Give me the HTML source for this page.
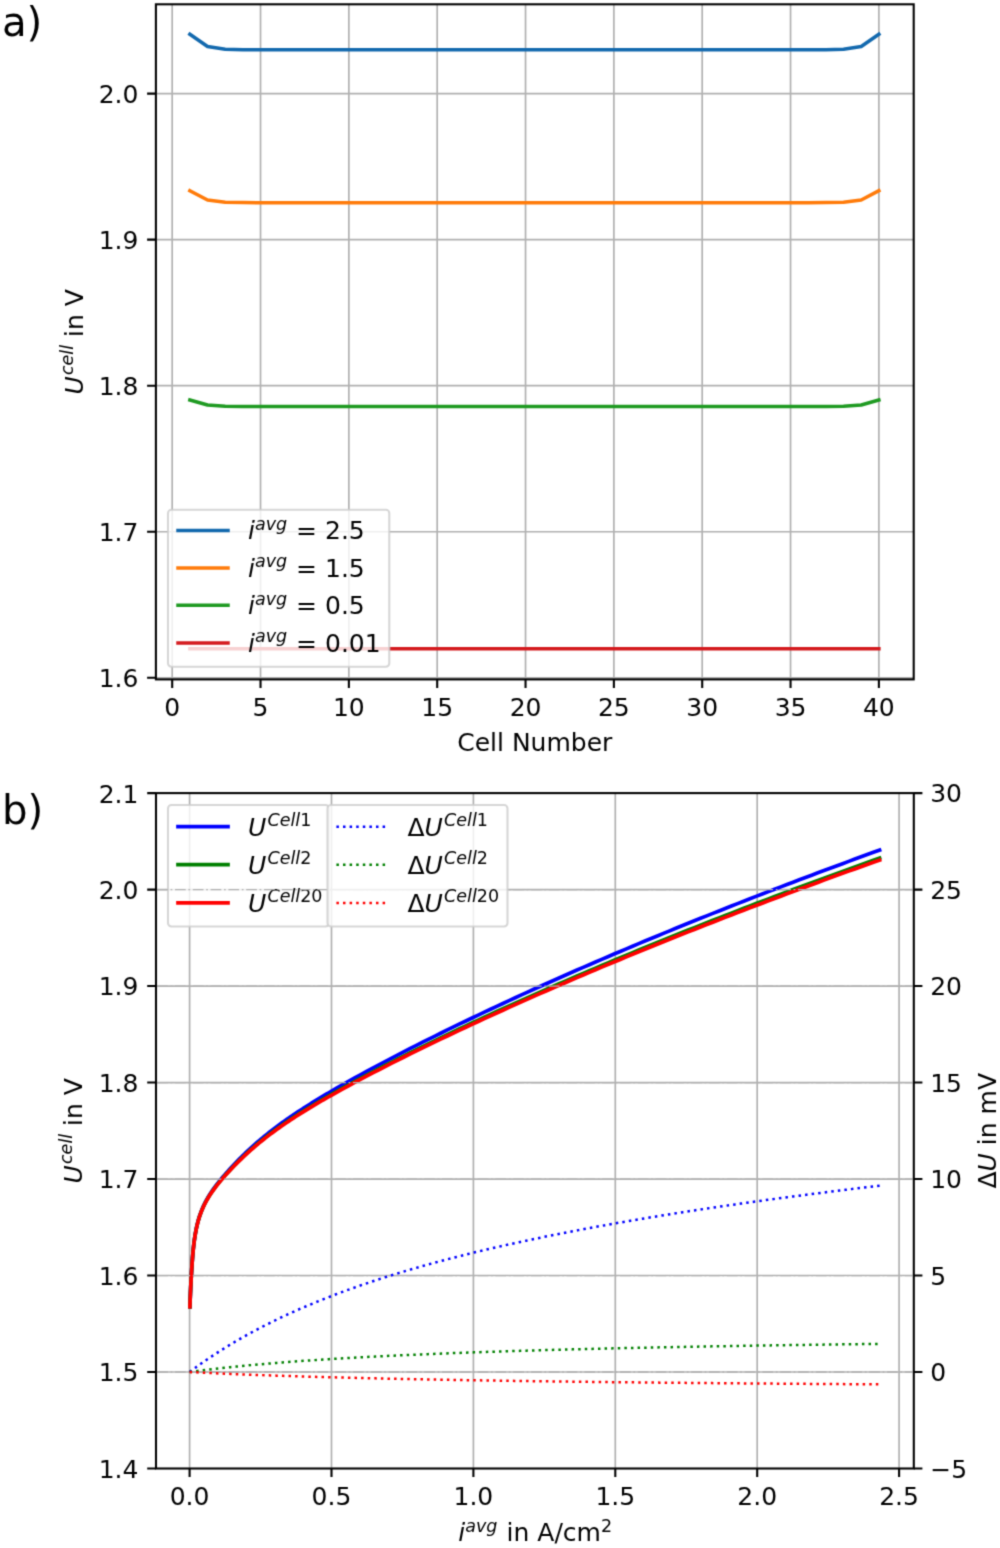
<!DOCTYPE html>
<html lang="en"><head><meta charset="utf-8"><title>Cell voltage figure</title>
<style>html,body{margin:0;padding:0;background:#fff}svg{display:block}</style></head>
<body>
<svg width="1000" height="1548" viewBox="0 0 1000 1548" font-family="'DejaVu Sans', 'Liberation Sans', sans-serif" font-size="25" fill="#000">
<defs><filter id="soft" x="0" y="0" width="1000" height="1548" filterUnits="userSpaceOnUse" color-interpolation-filters="sRGB"><feConvolveMatrix order="3" kernelMatrix="0.02768 0.11101 0.02768 0.11101 0.44521 0.11101 0.02768 0.11101 0.02768" edgeMode="duplicate" preserveAlpha="true"/></filter></defs>
<g filter="url(#soft)">
<rect x="-5" y="-5" width="1010" height="1558" fill="#fff"/>
<g id="panelA">
<path d="M172.2 4.3V679.4M260.53 4.3V679.4M348.87 4.3V679.4M437.2 4.3V679.4M525.54 4.3V679.4M613.88 4.3V679.4M702.21 4.3V679.4M790.55 4.3V679.4M878.88 4.3V679.4M155.9 677.8H913.7M155.9 531.75H913.7M155.9 385.7H913.7M155.9 239.65H913.7M155.9 93.6H913.7" stroke="#b0b0b0" stroke-width="1.67" fill="none"/>
<polyline points="189.87,34.3 207.53,46.5 225.2,49.2 242.87,49.7 260.53,49.8 278.2,49.8 295.87,49.8 313.54,49.8 331.2,49.8 348.87,49.8 366.54,49.8 384.2,49.8 401.87,49.8 419.54,49.8 437.2,49.8 454.87,49.8 472.54,49.8 490.21,49.8 507.87,49.8 525.54,49.8 543.21,49.8 560.87,49.8 578.54,49.8 596.21,49.8 613.88,49.8 631.54,49.8 649.21,49.8 666.88,49.8 684.54,49.8 702.21,49.8 719.88,49.8 737.54,49.8 755.21,49.8 772.88,49.8 790.55,49.8 808.21,49.8 825.88,49.7 843.55,49.2 861.21,46.5 878.88,34.3" fill="none" stroke="#1369ae" stroke-width="3.5" stroke-linejoin="round" stroke-linecap="square"/>
<polyline points="189.87,190.7 207.53,200 225.2,202.3 242.87,202.6 260.53,202.7 278.2,202.7 295.87,202.7 313.54,202.7 331.2,202.7 348.87,202.7 366.54,202.7 384.2,202.7 401.87,202.7 419.54,202.7 437.2,202.7 454.87,202.7 472.54,202.7 490.21,202.7 507.87,202.7 525.54,202.7 543.21,202.7 560.87,202.7 578.54,202.7 596.21,202.7 613.88,202.7 631.54,202.7 649.21,202.7 666.88,202.7 684.54,202.7 702.21,202.7 719.88,202.7 737.54,202.7 755.21,202.7 772.88,202.7 790.55,202.7 808.21,202.7 825.88,202.6 843.55,202.3 861.21,200 878.88,190.7" fill="none" stroke="#ff7b0a" stroke-width="3.5" stroke-linejoin="round" stroke-linecap="square"/>
<polyline points="189.87,400 207.53,405 225.2,406.3 242.87,406.5 260.53,406.6 278.2,406.6 295.87,406.6 313.54,406.6 331.2,406.6 348.87,406.6 366.54,406.6 384.2,406.6 401.87,406.6 419.54,406.6 437.2,406.6 454.87,406.6 472.54,406.6 490.21,406.6 507.87,406.6 525.54,406.6 543.21,406.6 560.87,406.6 578.54,406.6 596.21,406.6 613.88,406.6 631.54,406.6 649.21,406.6 666.88,406.6 684.54,406.6 702.21,406.6 719.88,406.6 737.54,406.6 755.21,406.6 772.88,406.6 790.55,406.6 808.21,406.6 825.88,406.5 843.55,406.3 861.21,405 878.88,400" fill="none" stroke="#1f9a22" stroke-width="3.5" stroke-linejoin="round" stroke-linecap="square"/>
<polyline points="189.87,648.7 207.53,648.7 225.2,648.7 242.87,648.7 260.53,648.7 278.2,648.7 295.87,648.7 313.54,648.7 331.2,648.7 348.87,648.7 366.54,648.7 384.2,648.7 401.87,648.7 419.54,648.7 437.2,648.7 454.87,648.7 472.54,648.7 490.21,648.7 507.87,648.7 525.54,648.7 543.21,648.7 560.87,648.7 578.54,648.7 596.21,648.7 613.88,648.7 631.54,648.7 649.21,648.7 666.88,648.7 684.54,648.7 702.21,648.7 719.88,648.7 737.54,648.7 755.21,648.7 772.88,648.7 790.55,648.7 808.21,648.7 825.88,648.7 843.55,648.7 861.21,648.7 878.88,648.7" fill="none" stroke="#d41a1e" stroke-width="3.5" stroke-linejoin="round" stroke-linecap="square"/>
<path d="M172.2 679.4v8.6M260.53 679.4v8.6M348.87 679.4v8.6M437.2 679.4v8.6M525.54 679.4v8.6M613.88 679.4v8.6M702.21 679.4v8.6M790.55 679.4v8.6M878.88 679.4v8.6M155.9 677.8h-8.8M155.9 531.75h-8.8M155.9 385.7h-8.8M155.9 239.65h-8.8M155.9 93.6h-8.8" stroke="#000" stroke-width="2.08" fill="none"/>
<rect x="155.9" y="4.3" width="757.8" height="675.1" fill="none" stroke="#000" stroke-width="2.08"/>
<text x="172.2" y="716.4" text-anchor="middle">0</text>
<text x="260.53" y="716.4" text-anchor="middle">5</text>
<text x="348.87" y="716.4" text-anchor="middle">10</text>
<text x="437.2" y="716.4" text-anchor="middle">15</text>
<text x="525.54" y="716.4" text-anchor="middle">20</text>
<text x="613.88" y="716.4" text-anchor="middle">25</text>
<text x="702.21" y="716.4" text-anchor="middle">30</text>
<text x="790.55" y="716.4" text-anchor="middle">35</text>
<text x="878.88" y="716.4" text-anchor="middle">40</text>
<text x="138.4" y="687.2" text-anchor="end">1.6</text>
<text x="138.4" y="541.15" text-anchor="end">1.7</text>
<text x="138.4" y="395.1" text-anchor="end">1.8</text>
<text x="138.4" y="249.05" text-anchor="end">1.9</text>
<text x="138.4" y="103" text-anchor="end">2.0</text>
<text x="534.8" y="751" text-anchor="middle">Cell Number</text>
<text transform="translate(83 341.85) rotate(-90)" text-anchor="middle"><tspan font-style="italic">U</tspan><tspan font-style="italic" font-size="17.5" dx="1.2" dy="-10">cell</tspan><tspan dy="10"> in V</tspan></text>
<rect x="168" y="509.8" width="221.3" height="157" rx="3.5" ry="3.5" fill="#fff" fill-opacity="0.8" stroke="#ccc" stroke-opacity="0.8" stroke-width="2.08"/>
<path d="M178 530.6h50" stroke="#1369ae" stroke-width="3.5" stroke-linecap="square" fill="none"/>
<text x="248" y="539.4"><tspan font-style="italic">i</tspan><tspan font-style="italic" font-size="17.5" dy="-9.5">avg</tspan><tspan dx="1" dy="9.5"> = 2.5</tspan></text>
<path d="M178 567.9h50" stroke="#ff7b0a" stroke-width="3.5" stroke-linecap="square" fill="none"/>
<text x="248" y="576.7"><tspan font-style="italic">i</tspan><tspan font-style="italic" font-size="17.5" dy="-9.5">avg</tspan><tspan dx="1" dy="9.5"> = 1.5</tspan></text>
<path d="M178 605.3h50" stroke="#1f9a22" stroke-width="3.5" stroke-linecap="square" fill="none"/>
<text x="248" y="614.1"><tspan font-style="italic">i</tspan><tspan font-style="italic" font-size="17.5" dy="-9.5">avg</tspan><tspan dx="1" dy="9.5"> = 0.5</tspan></text>
<path d="M178 643h50" stroke="#d41a1e" stroke-width="3.5" stroke-linecap="square" fill="none"/>
<text x="248" y="651.8"><tspan font-style="italic">i</tspan><tspan font-style="italic" font-size="17.5" dy="-9.5">avg</tspan><tspan dx="1" dy="9.5"> = 0.01</tspan></text>
<text x="1.9" y="36" font-size="40.3">a)</text>
</g>
<g id="panelB">
<path d="M189.6 793.1V1468.5M331.5 793.1V1468.5M473.4 793.1V1468.5M615.3 793.1V1468.5M757.2 793.1V1468.5M899.1 793.1V1468.5M156 1372.01H913.8M156 1275.53H913.8M156 1179.04H913.8M156 1082.56H913.8M156 986.07H913.8M156 889.59H913.8" stroke="#b0b0b0" stroke-width="1.67" fill="none"/>
<polyline points="189.9,1306.76 190.16,1299.51 190.42,1293.34 190.68,1287.83 190.94,1282.76 191.19,1278.02 191.45,1273.52 191.71,1269.24 191.97,1265.22 192.23,1261.48 192.49,1258.02 192.75,1254.84 193.01,1251.93 193.27,1249.26 193.53,1246.8 193.78,1244.53 194.04,1242.41 194.3,1240.44 194.56,1238.59 194.82,1236.86 195.08,1235.22 195.34,1233.67 195.6,1232.21 195.86,1230.81 196.12,1229.49 196.37,1228.22 196.63,1227.01 196.89,1225.85 197.15,1224.74 197.41,1223.67 197.67,1222.64 197.93,1221.65 198.19,1220.69 198.45,1219.76 198.71,1218.87 198.96,1218 199.22,1217.16 199.48,1216.34 199.74,1215.55 200,1214.77 201.65,1210.3 203.29,1206.41 204.94,1202.96 206.58,1199.84 208.23,1196.98 209.87,1194.31 211.52,1191.8 213.16,1189.41 214.81,1187.13 216.46,1184.93 218.1,1182.81 219.75,1180.74 221.39,1178.73 223.04,1176.77 224.68,1174.84 226.33,1172.96 227.97,1171.11 229.62,1169.28 231.27,1167.49 232.91,1165.72 234.56,1163.97 236.2,1162.25 237.85,1160.56 239.49,1158.89 241.14,1157.24 242.78,1155.62 244.43,1154.02 246.08,1152.44 247.72,1150.89 249.37,1149.36 251.01,1147.85 252.66,1146.36 254.3,1144.89 255.95,1143.44 257.59,1142.01 259.24,1140.6 260.89,1139.21 262.53,1137.84 264.18,1136.48 265.82,1135.14 267.47,1133.82 269.11,1132.52 270.76,1131.23 272.41,1129.96 274.05,1128.7 275.7,1127.46 277.34,1126.23 278.99,1125.01 280.63,1123.81 282.28,1122.62 283.92,1121.44 285.57,1120.27 287.22,1119.12 288.86,1117.98 290.51,1116.84 292.15,1115.72 293.8,1114.61 295.44,1113.5 297.09,1112.41 298.73,1111.32 300.38,1110.25 302.03,1109.18 303.67,1108.12 305.32,1107.07 306.96,1106.02 308.61,1104.98 310.25,1103.95 311.9,1102.93 313.54,1101.91 315.19,1100.89 316.84,1099.89 318.48,1098.89 320.13,1097.89 321.77,1096.9 323.42,1095.91 325.06,1094.93 326.71,1093.96 328.35,1092.99 330,1092.02 336.18,1088.43 342.35,1084.89 348.53,1081.4 354.7,1077.95 360.88,1074.55 367.05,1071.18 373.23,1067.85 379.4,1064.54 385.58,1061.27 391.75,1058.03 397.93,1054.82 404.1,1051.63 410.28,1048.47 416.45,1045.33 422.63,1042.21 428.8,1039.11 434.98,1036.04 441.16,1032.98 447.33,1029.95 453.51,1026.94 459.68,1023.94 465.86,1020.96 472.03,1018 478.21,1015.06 484.38,1012.13 490.56,1009.22 496.73,1006.33 502.91,1003.45 509.08,1000.59 515.26,997.75 521.43,994.91 527.61,992.1 533.78,989.29 539.96,986.51 546.13,983.73 552.31,980.97 558.49,978.22 564.66,975.49 570.84,972.77 577.01,970.06 583.19,967.36 589.36,964.68 595.54,962.01 601.71,959.35 607.89,956.7 614.06,954.07 620.24,951.44 626.41,948.83 632.59,946.23 638.76,943.64 644.94,941.06 651.11,938.5 657.29,935.94 663.47,933.39 669.64,930.86 675.82,928.33 681.99,925.81 688.17,923.31 694.34,920.81 700.52,918.33 706.69,915.85 712.87,913.39 719.04,910.93 725.22,908.48 731.39,906.05 737.57,903.62 743.74,901.2 749.92,898.79 756.09,896.39 762.27,894 768.44,891.61 774.62,889.24 780.8,886.87 786.97,884.51 793.15,882.16 799.32,879.82 805.5,877.49 811.67,875.16 817.85,872.85 824.02,870.54 830.2,868.24 836.37,865.95 842.55,863.66 848.72,861.38 854.9,859.11 861.07,856.85 867.25,854.6 873.42,852.35 879.6,850.11" fill="none" stroke="#0000ff" stroke-width="3.7" stroke-linejoin="round" stroke-linecap="square"/>
<polyline points="189.9,1306.77 190.16,1299.53 190.42,1293.37 190.68,1287.86 190.94,1282.81 191.19,1278.07 191.45,1273.58 191.71,1269.31 191.97,1265.3 192.23,1261.56 192.49,1258.11 192.75,1254.94 193.01,1252.04 193.27,1249.37 193.53,1246.92 193.78,1244.66 194.04,1242.55 194.3,1240.59 194.56,1238.75 194.82,1237.02 195.08,1235.39 195.34,1233.85 195.6,1232.39 195.86,1231.01 196.12,1229.69 196.37,1228.43 196.63,1227.23 196.89,1226.08 197.15,1224.97 197.41,1223.91 197.67,1222.89 197.93,1221.9 198.19,1220.95 198.45,1220.03 198.71,1219.14 198.96,1218.28 199.22,1217.45 199.48,1216.64 199.74,1215.85 200,1215.09 201.65,1210.66 203.29,1206.82 204.94,1203.42 206.58,1200.35 208.23,1197.53 209.87,1194.91 211.52,1192.44 213.16,1190.1 214.81,1187.86 216.46,1185.71 218.1,1183.63 219.75,1181.6 221.39,1179.64 223.04,1177.71 224.68,1175.83 226.33,1173.99 227.97,1172.18 229.62,1170.4 231.27,1168.64 232.91,1166.91 234.56,1165.21 236.2,1163.53 237.85,1161.87 239.49,1160.24 241.14,1158.64 242.78,1157.05 244.43,1155.49 246.08,1153.95 247.72,1152.44 249.37,1150.94 251.01,1149.47 252.66,1148.02 254.3,1146.58 255.95,1145.17 257.59,1143.78 259.24,1142.4 260.89,1141.05 262.53,1139.71 264.18,1138.39 265.82,1137.09 267.47,1135.8 269.11,1134.53 270.76,1133.28 272.41,1132.04 274.05,1130.82 275.7,1129.61 277.34,1128.41 278.99,1127.23 280.63,1126.06 282.28,1124.9 283.92,1123.75 285.57,1122.62 287.22,1121.49 288.86,1120.38 290.51,1119.28 292.15,1118.19 293.8,1117.1 295.44,1116.03 297.09,1114.97 298.73,1113.91 300.38,1112.87 302.03,1111.83 303.67,1110.8 305.32,1109.78 306.96,1108.76 308.61,1107.75 310.25,1106.75 311.9,1105.75 313.54,1104.76 315.19,1103.78 316.84,1102.8 318.48,1101.82 320.13,1100.86 321.77,1099.89 323.42,1098.93 325.06,1097.98 326.71,1097.03 328.35,1096.09 330,1095.15 336.18,1091.65 342.35,1088.21 348.53,1084.82 354.7,1081.46 360.88,1078.15 367.05,1074.87 373.23,1071.62 379.4,1068.41 385.58,1065.22 391.75,1062.06 397.93,1058.93 404.1,1055.82 410.28,1052.73 416.45,1049.67 422.63,1046.63 428.8,1043.6 434.98,1040.6 441.16,1037.62 447.33,1034.65 453.51,1031.71 459.68,1028.78 465.86,1025.87 472.03,1022.97 478.21,1020.09 484.38,1017.23 490.56,1014.39 496.73,1011.55 502.91,1008.74 509.08,1005.93 515.26,1003.15 521.43,1000.37 527.61,997.61 533.78,994.87 539.96,992.13 546.13,989.41 552.31,986.71 558.49,984.01 564.66,981.33 570.84,978.66 577.01,976 583.19,973.36 589.36,970.73 595.54,968.11 601.71,965.5 607.89,962.9 614.06,960.31 620.24,957.73 626.41,955.17 632.59,952.61 638.76,950.07 644.94,947.53 651.11,945.01 657.29,942.5 663.47,940 669.64,937.5 675.82,935.02 681.99,932.55 688.17,930.08 694.34,927.63 700.52,925.19 706.69,922.75 712.87,920.33 719.04,917.91 725.22,915.5 731.39,913.1 737.57,910.72 743.74,908.33 749.92,905.96 756.09,903.6 762.27,901.24 768.44,898.9 774.62,896.56 780.8,894.23 786.97,891.91 793.15,889.6 799.32,887.29 805.5,884.99 811.67,882.7 817.85,880.42 824.02,878.15 830.2,875.88 836.37,873.62 842.55,871.37 848.72,869.13 854.9,866.89 861.07,864.67 867.25,862.44 873.42,860.23 879.6,858.02" fill="none" stroke="#008000" stroke-width="3.7" stroke-linejoin="round" stroke-linecap="square"/>
<polyline points="189.9,1306.77 190.16,1299.54 190.42,1293.37 190.68,1287.87 190.94,1282.82 191.19,1278.09 191.45,1273.6 191.71,1269.33 191.97,1265.32 192.23,1261.59 192.49,1258.14 192.75,1254.97 193.01,1252.07 193.27,1249.41 193.53,1246.96 193.78,1244.7 194.04,1242.59 194.3,1240.63 194.56,1238.8 194.82,1237.07 195.08,1235.44 195.34,1233.91 195.6,1232.45 195.86,1231.07 196.12,1229.75 196.37,1228.49 196.63,1227.29 196.89,1226.14 197.15,1225.04 197.41,1223.98 197.67,1222.96 197.93,1221.98 198.19,1221.03 198.45,1220.11 198.71,1219.23 198.96,1218.37 199.22,1217.54 199.48,1216.73 199.74,1215.95 200,1215.18 201.65,1210.77 203.29,1206.95 204.94,1203.56 206.58,1200.5 208.23,1197.69 209.87,1195.09 211.52,1192.63 213.16,1190.31 214.81,1188.08 216.46,1185.94 218.1,1183.87 219.75,1181.86 221.39,1179.91 223.04,1178 224.68,1176.13 226.33,1174.3 227.97,1172.5 229.62,1170.73 231.27,1168.99 232.91,1167.27 234.56,1165.58 236.2,1163.91 237.85,1162.27 239.49,1160.65 241.14,1159.05 242.78,1157.48 244.43,1155.93 246.08,1154.4 247.72,1152.89 249.37,1151.41 251.01,1149.95 252.66,1148.51 254.3,1147.08 255.95,1145.68 257.59,1144.3 259.24,1142.94 260.89,1141.59 262.53,1140.26 264.18,1138.95 265.82,1137.66 267.47,1136.39 269.11,1135.13 270.76,1133.88 272.41,1132.65 274.05,1131.44 275.7,1130.24 277.34,1129.05 278.99,1127.88 280.63,1126.72 282.28,1125.57 283.92,1124.43 285.57,1123.3 287.22,1122.19 288.86,1121.09 290.51,1119.99 292.15,1118.91 293.8,1117.84 295.44,1116.77 297.09,1115.72 298.73,1114.67 300.38,1113.63 302.03,1112.6 303.67,1111.58 305.32,1110.57 306.96,1109.56 308.61,1108.56 310.25,1107.56 311.9,1106.57 313.54,1105.59 315.19,1104.62 316.84,1103.64 318.48,1102.68 320.13,1101.72 321.77,1100.76 323.42,1099.81 325.06,1098.87 326.71,1097.92 328.35,1096.99 330,1096.05 336.18,1092.59 342.35,1089.17 348.53,1085.8 354.7,1082.48 360.88,1079.19 367.05,1075.93 373.23,1072.71 379.4,1069.52 385.58,1066.35 391.75,1063.21 397.93,1060.1 404.1,1057.01 410.28,1053.95 416.45,1050.9 422.63,1047.88 428.8,1044.87 434.98,1041.89 441.16,1038.93 447.33,1035.98 453.51,1033.05 459.68,1030.14 465.86,1027.24 472.03,1024.36 478.21,1021.5 484.38,1018.66 490.56,1015.82 496.73,1013.01 502.91,1010.2 509.08,1007.42 515.26,1004.64 521.43,1001.88 527.61,999.14 533.78,996.4 539.96,993.68 546.13,990.98 552.31,988.28 558.49,985.6 564.66,982.93 570.84,980.27 577.01,977.63 583.19,975 589.36,972.37 595.54,969.76 601.71,967.16 607.89,964.58 614.06,962 620.24,959.43 626.41,956.88 632.59,954.33 638.76,951.8 644.94,949.28 651.11,946.76 657.29,944.26 663.47,941.77 669.64,939.28 675.82,936.81 681.99,934.34 688.17,931.89 694.34,929.45 700.52,927.01 706.69,924.58 712.87,922.17 719.04,919.76 725.22,917.36 731.39,914.97 737.57,912.59 743.74,910.21 749.92,907.85 756.09,905.49 762.27,903.15 768.44,900.81 774.62,898.48 780.8,896.15 786.97,893.84 793.15,891.53 799.32,889.23 805.5,886.94 811.67,884.66 817.85,882.39 824.02,880.12 830.2,877.86 836.37,875.61 842.55,873.36 848.72,871.12 854.9,868.89 861.07,866.67 867.25,864.46 873.42,862.25 879.6,860.05" fill="none" stroke="#ff0000" stroke-width="3.7" stroke-linejoin="round" stroke-linecap="square"/>
<path d="M189.6 1468.5v8.6M331.5 1468.5v8.6M473.4 1468.5v8.6M615.3 1468.5v8.6M757.2 1468.5v8.6M899.1 1468.5v8.6M156 1468.5h-8.8M913.8 1468.5h8.6M156 1372.01h-8.8M913.8 1372.01h8.6M156 1275.53h-8.8M913.8 1275.53h8.6M156 1179.04h-8.8M913.8 1179.04h8.6M156 1082.56h-8.8M913.8 1082.56h8.6M156 986.07h-8.8M913.8 986.07h8.6M156 889.59h-8.8M913.8 889.59h8.6M156 793.1h-8.8M913.8 793.1h8.6" stroke="#000" stroke-width="2.08" fill="none"/>
<rect x="156" y="793.1" width="757.8" height="675.4" fill="none" stroke="#000" stroke-width="2.08"/>
<text x="189.6" y="1505" text-anchor="middle">0.0</text>
<text x="331.5" y="1505" text-anchor="middle">0.5</text>
<text x="473.4" y="1505" text-anchor="middle">1.0</text>
<text x="615.3" y="1505" text-anchor="middle">1.5</text>
<text x="757.2" y="1505" text-anchor="middle">2.0</text>
<text x="899.1" y="1505" text-anchor="middle">2.5</text>
<text x="138.4" y="1477.9" text-anchor="end">1.4</text>
<text x="930.2" y="1477.8">−5</text>
<text x="138.4" y="1381.41" text-anchor="end">1.5</text>
<text x="930.2" y="1381.31">0</text>
<text x="138.4" y="1284.93" text-anchor="end">1.6</text>
<text x="930.2" y="1284.83">5</text>
<text x="138.4" y="1188.44" text-anchor="end">1.7</text>
<text x="930.2" y="1188.34">10</text>
<text x="138.4" y="1091.96" text-anchor="end">1.8</text>
<text x="930.2" y="1091.86">15</text>
<text x="138.4" y="995.47" text-anchor="end">1.9</text>
<text x="930.2" y="995.37">20</text>
<text x="138.4" y="898.99" text-anchor="end">2.0</text>
<text x="930.2" y="898.89">25</text>
<text x="138.4" y="802.5" text-anchor="end">2.1</text>
<text x="930.2" y="802.4">30</text>
<text x="535.2" y="1541.4" text-anchor="middle"><tspan font-style="italic">i</tspan><tspan font-style="italic" font-size="17.5" dy="-9">avg</tspan><tspan dx="1.2" dy="9"> in A/cm</tspan><tspan font-size="17.5" dy="-9">2</tspan></text>
<text transform="translate(82.3 1130.8) rotate(-90)" text-anchor="middle"><tspan font-style="italic">U</tspan><tspan font-style="italic" font-size="17.5" dx="1.2" dy="-10">cell</tspan><tspan dy="10"> in V</tspan></text>
<text transform="translate(996.3 1130.8) rotate(-90)" text-anchor="middle">Δ<tspan font-style="italic">U</tspan> in mV</text>
<rect x="168" y="805" width="161" height="121.5" rx="3.5" ry="3.5" fill="#fff" fill-opacity="0.8" stroke="#ccc" stroke-opacity="0.8" stroke-width="2.08"/>
<path d="M178 826.7h50" stroke="#0000ff" stroke-width="3.7" stroke-linecap="square" fill="none"/>
<text x="248" y="836.2"><tspan font-style="italic">U</tspan><tspan font-style="italic" font-size="17.5" dx="1.2" dy="-10">Cell</tspan><tspan font-size="17.5">1</tspan></text>
<path d="M178 864.7h50" stroke="#008000" stroke-width="3.7" stroke-linecap="square" fill="none"/>
<text x="248" y="874.2"><tspan font-style="italic">U</tspan><tspan font-style="italic" font-size="17.5" dx="1.2" dy="-10">Cell</tspan><tspan font-size="17.5">2</tspan></text>
<path d="M178 902.9h50" stroke="#ff0000" stroke-width="3.7" stroke-linecap="square" fill="none"/>
<text x="248" y="912.4"><tspan font-style="italic">U</tspan><tspan font-style="italic" font-size="17.5" dx="1.2" dy="-10">Cell</tspan><tspan font-size="17.5">20</tspan></text>
<path d="M157.2 1372.01H912.6M157.2 1275.53H912.6M157.2 1179.04H912.6M157.2 1082.56H912.6M157.2 986.07H912.6M157.2 889.59H912.6" stroke="#b0b0b0" stroke-width="1.3" stroke-dasharray="10.7 2.7 1.7 2.7" fill="none"/>
<polyline points="189.6,1372.01 195.4,1367.71 201.21,1363.56 207.01,1359.53 212.81,1355.64 218.62,1351.86 224.42,1348.2 230.22,1344.65 236.03,1341.21 241.83,1337.86 247.63,1334.61 253.44,1331.45 259.24,1328.38 265.04,1325.39 270.85,1322.47 276.65,1319.64 282.45,1316.87 288.26,1314.18 294.06,1311.55 299.86,1308.98 305.66,1306.48 311.47,1304.04 317.27,1301.65 323.07,1299.32 328.88,1297.04 334.68,1294.8 340.48,1292.62 346.29,1290.49 352.09,1288.4 357.89,1286.35 363.7,1284.34 369.5,1282.38 375.3,1280.45 381.11,1278.56 386.91,1276.71 392.71,1274.89 398.52,1273.11 404.32,1271.36 410.12,1269.64 415.93,1267.96 421.73,1266.3 427.53,1264.67 433.34,1263.07 439.14,1261.5 444.94,1259.95 450.75,1258.43 456.55,1256.93 462.35,1255.46 468.16,1254.01 473.96,1252.58 479.76,1251.17 485.57,1249.79 491.37,1248.43 497.17,1247.09 502.98,1245.76 508.78,1244.46 514.58,1243.17 520.39,1241.91 526.19,1240.66 531.99,1239.42 537.79,1238.21 543.6,1237.01 549.4,1235.82 555.2,1234.66 561.01,1233.5 566.81,1232.36 572.61,1231.24 578.42,1230.13 584.22,1229.03 590.02,1227.95 595.83,1226.88 601.63,1225.82 607.43,1224.78 613.24,1223.74 619.04,1222.72 624.84,1221.71 630.65,1220.71 636.45,1219.72 642.25,1218.75 648.06,1217.78 653.86,1216.82 659.66,1215.88 665.47,1214.94 671.27,1214.02 677.07,1213.1 682.88,1212.19 688.68,1211.29 694.48,1210.4 700.29,1209.52 706.09,1208.64 711.89,1207.78 717.7,1206.92 723.5,1206.07 729.3,1205.23 735.11,1204.4 740.91,1203.57 746.71,1202.75 752.52,1201.94 758.32,1201.14 764.12,1200.34 769.92,1199.55 775.73,1198.76 781.53,1197.99 787.33,1197.21 793.14,1196.45 798.94,1195.69 804.74,1194.94 810.55,1194.19 816.35,1193.45 822.15,1192.71 827.96,1191.98 833.76,1191.26 839.56,1190.54 845.37,1189.83 851.17,1189.12 856.97,1188.41 862.78,1187.71 868.58,1187.02 874.38,1186.33 880.19,1185.65" fill="none" stroke="#0000ff" stroke-width="2.5" stroke-dasharray="2.5 4.1"/>
<polyline points="189.6,1372.01 195.4,1371.24 201.21,1370.5 207.01,1369.79 212.81,1369.1 218.62,1368.44 224.42,1367.8 230.22,1367.18 236.03,1366.59 241.83,1366.01 247.63,1365.45 253.44,1364.91 259.24,1364.39 265.04,1363.88 270.85,1363.39 276.65,1362.91 282.45,1362.45 288.26,1362 294.06,1361.56 299.86,1361.14 305.66,1360.73 311.47,1360.32 317.27,1359.93 323.07,1359.56 328.88,1359.19 334.68,1358.83 340.48,1358.48 346.29,1358.14 352.09,1357.8 357.89,1357.48 363.7,1357.16 369.5,1356.85 375.3,1356.55 381.11,1356.26 386.91,1355.97 392.71,1355.69 398.52,1355.42 404.32,1355.15 410.12,1354.89 415.93,1354.63 421.73,1354.38 427.53,1354.13 433.34,1353.89 439.14,1353.66 444.94,1353.43 450.75,1353.2 456.55,1352.98 462.35,1352.77 468.16,1352.56 473.96,1352.35 479.76,1352.15 485.57,1351.95 491.37,1351.75 497.17,1351.56 502.98,1351.37 508.78,1351.19 514.58,1351.01 520.39,1350.83 526.19,1350.65 531.99,1350.48 537.79,1350.31 543.6,1350.15 549.4,1349.99 555.2,1349.83 561.01,1349.67 566.81,1349.52 572.61,1349.36 578.42,1349.21 584.22,1349.07 590.02,1348.92 595.83,1348.78 601.63,1348.64 607.43,1348.51 613.24,1348.37 619.04,1348.24 624.84,1348.11 630.65,1347.98 636.45,1347.85 642.25,1347.73 648.06,1347.61 653.86,1347.49 659.66,1347.37 665.47,1347.25 671.27,1347.13 677.07,1347.02 682.88,1346.91 688.68,1346.8 694.48,1346.69 700.29,1346.58 706.09,1346.48 711.89,1346.37 717.7,1346.27 723.5,1346.17 729.3,1346.07 735.11,1345.97 740.91,1345.87 746.71,1345.78 752.52,1345.68 758.32,1345.59 764.12,1345.5 769.92,1345.4 775.73,1345.32 781.53,1345.23 787.33,1345.14 793.14,1345.05 798.94,1344.97 804.74,1344.88 810.55,1344.8 816.35,1344.72 822.15,1344.64 827.96,1344.56 833.76,1344.48 839.56,1344.4 845.37,1344.32 851.17,1344.25 856.97,1344.17 862.78,1344.1 868.58,1344.03 874.38,1343.95 880.19,1343.88" fill="none" stroke="#008000" stroke-width="2.5" stroke-dasharray="2.5 4.1"/>
<polyline points="189.6,1372.01 195.4,1372.31 201.21,1372.59 207.01,1372.87 212.81,1373.14 218.62,1373.4 224.42,1373.65 230.22,1373.89 236.03,1374.13 241.83,1374.36 247.63,1374.59 253.44,1374.81 259.24,1375.02 265.04,1375.23 270.85,1375.43 276.65,1375.63 282.45,1375.82 288.26,1376.01 294.06,1376.2 299.86,1376.37 305.66,1376.55 311.47,1376.72 317.27,1376.89 323.07,1377.05 328.88,1377.21 334.68,1377.36 340.48,1377.51 346.29,1377.66 352.09,1377.81 357.89,1377.95 363.7,1378.09 369.5,1378.23 375.3,1378.36 381.11,1378.49 386.91,1378.62 392.71,1378.74 398.52,1378.87 404.32,1378.99 410.12,1379.1 415.93,1379.22 421.73,1379.33 427.53,1379.44 433.34,1379.55 439.14,1379.66 444.94,1379.77 450.75,1379.87 456.55,1379.97 462.35,1380.07 468.16,1380.17 473.96,1380.26 479.76,1380.36 485.57,1380.45 491.37,1380.54 497.17,1380.63 502.98,1380.72 508.78,1380.8 514.58,1380.89 520.39,1380.97 526.19,1381.05 531.99,1381.14 537.79,1381.22 543.6,1381.29 549.4,1381.37 555.2,1381.45 561.01,1381.52 566.81,1381.59 572.61,1381.67 578.42,1381.74 584.22,1381.81 590.02,1381.88 595.83,1381.94 601.63,1382.01 607.43,1382.08 613.24,1382.14 619.04,1382.21 624.84,1382.27 630.65,1382.33 636.45,1382.39 642.25,1382.45 648.06,1382.51 653.86,1382.57 659.66,1382.63 665.47,1382.69 671.27,1382.74 677.07,1382.8 682.88,1382.86 688.68,1382.91 694.48,1382.96 700.29,1383.02 706.09,1383.07 711.89,1383.12 717.7,1383.17 723.5,1383.22 729.3,1383.27 735.11,1383.32 740.91,1383.37 746.71,1383.41 752.52,1383.46 758.32,1383.51 764.12,1383.55 769.92,1383.6 775.73,1383.64 781.53,1383.69 787.33,1383.73 793.14,1383.77 798.94,1383.82 804.74,1383.86 810.55,1383.9 816.35,1383.94 822.15,1383.98 827.96,1384.02 833.76,1384.06 839.56,1384.1 845.37,1384.14 851.17,1384.18 856.97,1384.22 862.78,1384.26 868.58,1384.29 874.38,1384.33 880.19,1384.37" fill="none" stroke="#ff0000" stroke-width="2.5" stroke-dasharray="2.5 4.1"/>
<rect x="327.5" y="805" width="180" height="121.5" rx="3.5" ry="3.5" fill="#fff" fill-opacity="0.8" stroke="#ccc" stroke-opacity="0.8" stroke-width="2.08"/>
<path d="M336.4 826.7h50" stroke="#0000ff" stroke-width="2.5" stroke-dasharray="2.5 4.1" fill="none"/>
<text x="407.5" y="836.2">Δ<tspan font-style="italic">U</tspan><tspan font-style="italic" font-size="17.5" dx="1.2" dy="-10">Cell</tspan><tspan font-size="17.5">1</tspan></text>
<path d="M336.4 864.7h50" stroke="#008000" stroke-width="2.5" stroke-dasharray="2.5 4.1" fill="none"/>
<text x="407.5" y="874.2">Δ<tspan font-style="italic">U</tspan><tspan font-style="italic" font-size="17.5" dx="1.2" dy="-10">Cell</tspan><tspan font-size="17.5">2</tspan></text>
<path d="M336.4 902.9h50" stroke="#ff0000" stroke-width="2.5" stroke-dasharray="2.5 4.1" fill="none"/>
<text x="407.5" y="912.4">Δ<tspan font-style="italic">U</tspan><tspan font-style="italic" font-size="17.5" dx="1.2" dy="-10">Cell</tspan><tspan font-size="17.5">20</tspan></text>
<text x="1.9" y="824" font-size="40.3">b)</text>
</g>
</g>
</svg>
</body></html>
